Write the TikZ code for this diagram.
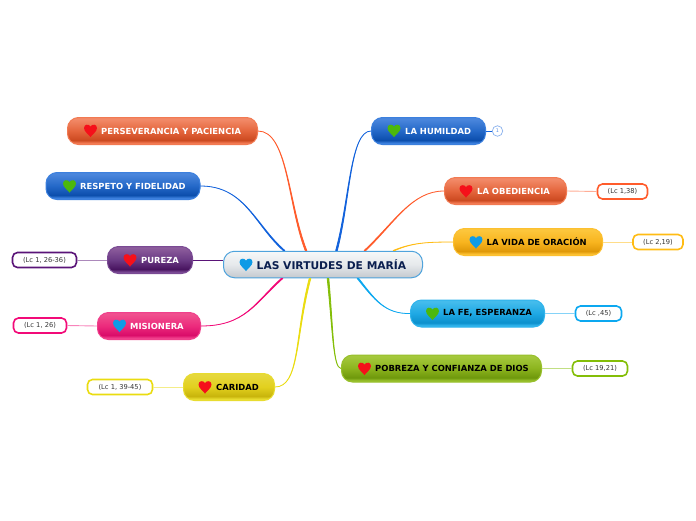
\documentclass[tikz,border=0pt]{standalone}
\usepackage{fontspec}
\setmainfont{DejaVu Sans}
\usetikzlibrary{calc,shadings}
% colour sets: top, middle, dark, bottom edge
\newcommand\shadeset[6]{%
  \definecolor{#1T}{HTML}{#2}\definecolor{#1M}{HTML}{#3}\definecolor{#1D}{HTML}{#4}\definecolor{#1E}{HTML}{#5}\definecolor{#1B}{HTML}{#6}%
  \pgfdeclareverticalshading{sh#1}{100bp}{color(0bp)=(#1E); color(25bp)=(#1E); color(28bp)=(#1E); color(33bp)=(#1D); color(50bp)=(#1M); color(72bp)=(#1T); color(75bp)=(#1T); color(100bp)=(#1T)}}
\shadeset{Orange}{F28A68}{E4653C}{CC4A20}{F27A52}{FF5C2C}
\shadeset{Blue}{4A86DC}{2468C8}{0C4EAC}{3C80DE}{1262DC}
\shadeset{Purple}{8C5C9C}{6A3A84}{48145F}{7A4A94}{5A1478}
\shadeset{Pink}{F0508E}{EC2A7C}{DA0C6A}{F0408C}{F20A78}
\shadeset{Yellow}{E6D83C}{E2D01E}{C8B40C}{E8DC30}{EADC10}
\shadeset{Amber}{FCC63C}{F8B41E}{E09808}{FCC030}{FFBC14}
\shadeset{Sky}{44BCEC}{1EA8E4}{0C90CC}{30B4EC}{0CA8F0}
\shadeset{Green}{A4C83C}{8CB41E}{6E980C}{98C02C}{84BE08}
\definecolor{RootT}{HTML}{F6F8F9}\definecolor{RootM}{HTML}{E6E9EC}\definecolor{RootD}{HTML}{C4C9CE}
\pgfdeclareverticalshading{shRoot}{100bp}{color(0bp)=(RootD); color(25bp)=(RootD); color(50bp)=(RootM); color(75bp)=(RootT); color(100bp)=(RootT)}
\definecolor{RootLine}{HTML}{4FA3DC}
\definecolor{Navy}{HTML}{0B1F4F}
\definecolor{HeartRed}{HTML}{F5101A}
\definecolor{HeartGreen}{HTML}{4CB80C}
\definecolor{HeartBlue}{HTML}{0F9BE6}
\definecolor{NoteInk}{HTML}{333333}
\tikzset{
  pill/.style={rounded corners=11pt,inner sep=0pt,line width=1pt,minimum height=27pt},
  rootpill/.style={pill,rounded corners=11pt,shading=shRoot,draw=RootLine,minimum width=199pt,minimum height=26.5pt},
  toptext/.style={anchor=west,inner sep=0pt,font=\bfseries\fontsize{8.4}{10}\selectfont},
  roottext/.style={anchor=west,inner sep=0pt,text=Navy,font=\bfseries\fontsize{10.7}{12}\selectfont},
  note/.style={draw=#1,fill=white,line width=1.6pt,rounded corners=5pt,inner sep=0pt,minimum height=15pt,text=NoteInk,font=\fontsize{6.7}{8}\selectfont},
  notelink/.style={draw=#1!50,line width=.9pt},
}
% heart centred on x,y
\newcommand\heart[3]{\fill[#3,shift={(#1,#2)}] (0,6.6) .. controls (-1.6,4) and (-6.5,1.2) .. (-6.5,-2.4) .. controls (-6.5,-6.4) and (-1.6,-7) .. (0,-3.8) .. controls (1.6,-7) and (6.5,-6.4) .. (6.5,-2.4) .. controls (6.5,1.2) and (1.6,4) .. (0,6.6) -- cycle;}
% tapered connector: thin at the topic, thick at the root
\newcommand\link[5]{\draw[#5,fill=#5,line width=.8pt,line join=round] (#1) .. controls (#2) and ($(#3)+(.4,0)$) .. ($(#4)+(.8,0)$) -- ($(#4)+(-.8,0)$) .. controls ($(#3)+(-.4,0)$) and (#2) .. (#1) -- cycle;}
\begin{document}
\begin{tikzpicture}[x=1pt,y=-1pt]
\useasboundingbox (0,0) rectangle (696,520);
\fill[white] (0,0) rectangle (696,520);
% root
\node[rootpill] (root) at (323,264.5) {};
% topics
\node[pill,shading=shOrange,draw=OrangeE,minimum width=190pt] (perse) at (162.5,131) {};
\node[pill,shading=shBlue,draw=BlueE,minimum width=154pt] (respeto) at (123,186) {};
\node[pill,shading=shPurple,draw=PurpleE,minimum width=85pt] (pureza) at (150,260) {};
\node[pill,shading=shPink,draw=PinkE,minimum width=103pt] (mision) at (149,326) {};
\node[pill,shading=shYellow,draw=YellowE,minimum width=91pt] (caridad) at (229,387) {};
\node[pill,shading=shBlue,draw=BlueE,minimum width=114pt] (humildad) at (428.5,131) {};
\node[pill,shading=shOrange,draw=OrangeE,minimum width=122pt] (obed) at (505.5,191) {};
\node[pill,shading=shAmber,draw=AmberE,minimum width=149pt] (oracion) at (528,242) {};
\node[pill,shading=shSky,draw=SkyE,minimum width=134pt] (fe) at (477.5,313.5) {};
\node[pill,shading=shGreen,draw=GreenE,minimum width=200pt] (pobreza) at (441.5,368.5) {};
% texts
\node[roottext] (troot) at (256.5,265) {LAS VIRTUDES DE MARÍA};
\node[toptext,text=white] (tperse) at (101,131) {PERSEVERANCIA Y PACIENCIA};
\node[toptext,text=white] (trespeto) at (80,186) {RESPETO Y FIDELIDAD};
\node[toptext,text=white] (tpureza) at (141,260) {PUREZA};
\node[toptext,text=white] (tmision) at (130,326) {MISIONERA};
\node[toptext,text=black] (tcaridad) at (216,387) {CARIDAD};
\node[toptext,text=white] (thumildad) at (405,131) {LA HUMILDAD};
\node[toptext,text=white] (tobed) at (477,191) {LA OBEDIENCIA};
\node[toptext,text=black] (toracion) at (486.5,242) {LA VIDA DE ORACIÓN};
\node[toptext,text=black] (tfe) at (443,313) {LA FE, ESPERANZA};
\node[toptext,text=black] (tpobreza) at (375,368) {POBREZA Y CONFIANZA DE DIOS};
% hearts
\heart{246}{264.5}{HeartBlue}
\heart{90.5}{130.5}{HeartRed}
\heart{69.5}{186}{HeartGreen}
\heart{130}{260}{HeartRed}
\heart{119.5}{325.5}{HeartBlue}
\heart{205}{387}{HeartRed}
\heart{394}{130.5}{HeartGreen}
\heart{466}{191}{HeartRed}
\heart{476}{242}{HeartBlue}
\heart{432.5}{313.5}{HeartGreen}
\heart{364.5}{368.5}{HeartRed}
% notes
\node[note=OrangeB,minimum width=50pt] (n1) at (622.5,191.5) {(Lc 1,38)};
\node[note=AmberB,minimum width=50pt] (n2) at (658,242) {(Lc 2,19)};
\node[note=SkyB,minimum width=46pt] (n3) at (598.5,313.5) {(Lc ,45)};
\node[note=GreenB,minimum width=55pt] (n4) at (600,368.5) {(Lc 19,21)};
\node[note=PurpleB,minimum width=64pt] (n5) at (44.5,260) {(Lc 1, 26-36)};
\node[note=PinkB,minimum width=53pt] (n6) at (40,325.5) {(Lc 1, 26)};
\node[note=YellowB,minimum width=65pt] (n7) at (120,387) {(Lc 1, 39-45)};
\node[circle,draw=BlueB!50,fill=white,line width=.7pt,minimum size=10.5pt,inner sep=0pt,text=BlueB!70,font=\fontsize{5}{6}\selectfont] (cnt) at (497.5,131) {1};
% attachment points on the root's edge
\coordinate (rperse) at (306,250.5);
\coordinate (rrespeto) at (284,250.5);
\coordinate (rhumildad) at (336.5,250.5);
\coordinate (robed) at (365,250.5);
\coordinate (roracion) at (394,250.5);
\coordinate (rfe) at (358,278.5);
\coordinate (rpobreza) at (328,278.5);
\coordinate (rcaridad) at (310,278.5);
\coordinate (rmision) at (282,278.5);
% connectors
\link{perse.east}{288,131}{288,205}{rperse}{OrangeB}
\link{respeto.east}{245,186}{255,225}{rrespeto}{BlueB}
\link{humildad.west}{350,131}{350,200}{rhumildad}{BlueB}
\link{obed.west}{412,191}{395,222}{robed}{OrangeB}
\link{oracion.west}{425,242}{412,243}{roracion}{AmberB}
\link{fe.west}{385,314}{375,300}{rfe}{SkyB}
\link{pobreza.west}{333,368}{333,330}{rpobreza}{GreenB}
\link{caridad.east}{300,387}{295,335}{rcaridad}{YellowB}
\link{mision.east}{245,326}{255,303}{rmision}{PinkB}
\draw[PurpleB,line width=1pt] (pureza.east) -- (root.west |- pureza.east);
% note links
\draw[notelink=OrangeB] (obed.east) -- (n1.west);
\draw[notelink=AmberB] (oracion.east) -- (n2.west);
\draw[notelink=SkyB] (fe.east) -- (n3.west);
\draw[notelink=GreenB] (pobreza.east) -- (n4.west);
\draw[notelink=PurpleB] (pureza.west) -- (n5.east);
\draw[notelink=PinkB] (mision.west) -- (n6.east);
\draw[notelink=YellowB] (caridad.west) -- (n7.east);
\draw[BlueB,line width=.9pt] (humildad.east) -- (cnt.west);
\end{tikzpicture}
\end{document}
